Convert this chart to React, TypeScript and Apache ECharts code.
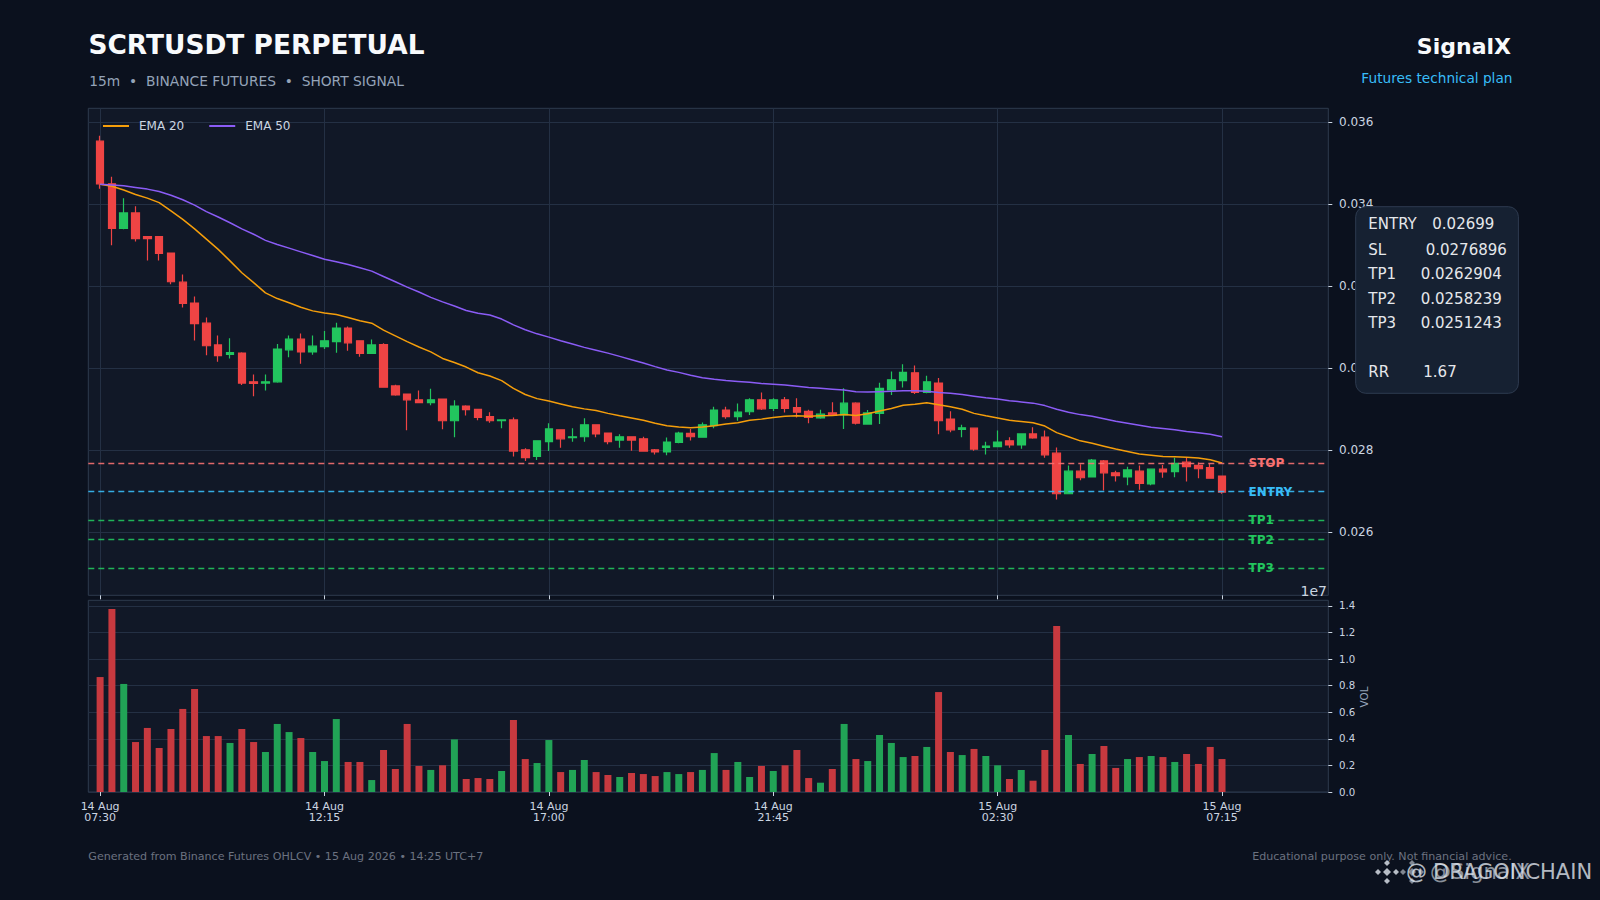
import React, { useEffect, useRef } from "react";
import * as echarts from "echarts";

// ---------- data ----------
const tickIndices = [0, 19, 38, 57, 76, 95];
const timeLabels = ["14 Aug\n07:30", "14 Aug\n12:15", "14 Aug\n17:00", "14 Aug\n21:45", "15 Aug\n02:30", "15 Aug\n07:15"];

const opens = [
  0.03554, 0.0345, 0.03341, 0.03379, 0.03321, 0.03321, 0.03281, 0.0321, 0.03159, 0.0311,
  0.03057, 0.03034, 0.03037, 0.02967, 0.02964, 0.02967, 0.03045, 0.03071, 0.0304, 0.03053,
  0.03065, 0.03098, 0.03067, 0.03036, 0.03058, 0.02957, 0.02937, 0.02923, 0.02916, 0.02925,
  0.02872, 0.02908, 0.029, 0.02882, 0.02872, 0.02874, 0.02801, 0.02785, 0.02821, 0.0285,
  0.02831, 0.02833, 0.02862, 0.02842, 0.02825, 0.02833, 0.02828, 0.02801, 0.02796, 0.02819,
  0.02841, 0.02832, 0.0286, 0.02898, 0.02882, 0.02894, 0.02923, 0.02902, 0.02923, 0.02904,
  0.02895, 0.02879, 0.02891, 0.02886, 0.02915, 0.02864, 0.0289, 0.02947, 0.0297, 0.02989,
  0.02941, 0.02964, 0.02876, 0.02851, 0.02854, 0.02807, 0.02809, 0.02823, 0.02813, 0.0284,
  0.02832, 0.02793, 0.02694, 0.02749, 0.02735, 0.02774, 0.02745, 0.02735, 0.02749, 0.02718,
  0.02754, 0.02748, 0.02771, 0.02763, 0.02758, 0.02737,
];
const closes = [
  0.0345, 0.03341, 0.03379, 0.03316, 0.03316, 0.0328, 0.03211, 0.03158, 0.03109, 0.03055,
  0.03031, 0.03038, 0.02964, 0.02963, 0.02967, 0.03047, 0.03071, 0.0304, 0.03054, 0.03067,
  0.03098, 0.03062, 0.03036, 0.03057, 0.02954, 0.02935, 0.02923, 0.02916, 0.02923, 0.02872,
  0.02908, 0.02899, 0.0288, 0.02872, 0.02874, 0.02798, 0.02782, 0.02823, 0.02852, 0.02828,
  0.02833, 0.02862, 0.0284, 0.02821, 0.02833, 0.02825, 0.02798, 0.02796, 0.0282, 0.02842,
  0.02833, 0.02862, 0.02898, 0.02882, 0.02893, 0.02923, 0.02901, 0.02923, 0.02902, 0.02893,
  0.0288, 0.02888, 0.02885, 0.02915, 0.02866, 0.02891, 0.02951, 0.02972, 0.0299, 0.02941,
  0.02967, 0.02872, 0.0285, 0.02855, 0.02803, 0.0281, 0.0282, 0.02813, 0.0284, 0.0283,
  0.02789, 0.02694, 0.02749, 0.02733, 0.02776, 0.02745, 0.02738, 0.02752, 0.02719, 0.02754,
  0.02747, 0.02768, 0.0276, 0.02755, 0.02732, 0.02698,
];
const lows = [
  0.03438, 0.033, 0.03339, 0.03309, 0.03263, 0.03263, 0.03205, 0.03148, 0.03068, 0.03032,
  0.03016, 0.03024, 0.02959, 0.02932, 0.02946, 0.02965, 0.03027, 0.03011, 0.03033, 0.03047,
  0.03038, 0.03043, 0.03028, 0.03036, 0.02953, 0.02933, 0.02849, 0.02916, 0.0291, 0.02851,
  0.02832, 0.02885, 0.02873, 0.02867, 0.02854, 0.02785, 0.02774, 0.02776, 0.02798, 0.02806,
  0.02821, 0.02821, 0.02832, 0.02815, 0.02806, 0.02799, 0.02798, 0.0279, 0.02788, 0.02817,
  0.02824, 0.02832, 0.02854, 0.02877, 0.02872, 0.02886, 0.02898, 0.02896, 0.02892, 0.0288,
  0.02866, 0.02877, 0.02885, 0.02852, 0.02863, 0.02863, 0.02864, 0.02935, 0.02953, 0.02937,
  0.02939, 0.02839, 0.02844, 0.02832, 0.02799, 0.0279, 0.02809, 0.02806, 0.02804, 0.02828,
  0.02782, 0.0268, 0.02693, 0.02727, 0.02735, 0.02702, 0.02724, 0.02715, 0.02704, 0.02715,
  0.02733, 0.02734, 0.02724, 0.02732, 0.02732, 0.02694,
];
const highs = [
  0.03567, 0.03467, 0.03415, 0.03395, 0.03321, 0.03321, 0.03281, 0.03229, 0.03175, 0.03124,
  0.0308, 0.03073, 0.03039, 0.02985, 0.02985, 0.03059, 0.0308, 0.03085, 0.0308, 0.03091,
  0.03111, 0.03102, 0.03067, 0.0307, 0.03061, 0.0296, 0.02937, 0.02946, 0.0295, 0.02926,
  0.02922, 0.0291, 0.029, 0.02893, 0.02875, 0.0288, 0.02805, 0.02823, 0.02866, 0.0285,
  0.02854, 0.02878, 0.02862, 0.02842, 0.02839, 0.02833, 0.02833, 0.02803, 0.02831, 0.02845,
  0.02852, 0.02868, 0.02906, 0.02906, 0.02914, 0.02927, 0.02941, 0.02927, 0.0293, 0.02927,
  0.02899, 0.02899, 0.02917, 0.02951, 0.02917, 0.02898, 0.02965, 0.02992, 0.0301, 0.03007,
  0.02982, 0.02976, 0.02895, 0.02862, 0.02854, 0.02821, 0.02848, 0.02832, 0.0284, 0.02856,
  0.02848, 0.02807, 0.02763, 0.02766, 0.02779, 0.02776, 0.0275, 0.0276, 0.02763, 0.02754,
  0.02764, 0.02782, 0.02782, 0.0277, 0.02768, 0.02737,
];
// volume, in units of 1e7
const volumes = [
  0.865, 1.377, 0.813, 0.376, 0.482, 0.331, 0.474, 0.625, 0.775, 0.421,
  0.421, 0.369, 0.474, 0.376, 0.301, 0.512, 0.451, 0.406, 0.301, 0.233,
  0.549, 0.226, 0.226, 0.09, 0.316, 0.173, 0.512, 0.196, 0.166, 0.201,
  0.396, 0.098, 0.105, 0.098, 0.158, 0.542, 0.248, 0.218, 0.391, 0.15,
  0.166, 0.241, 0.15, 0.128, 0.113, 0.143, 0.135, 0.12, 0.15, 0.135,
  0.15, 0.166, 0.293, 0.166, 0.226, 0.113, 0.196, 0.158, 0.201, 0.316,
  0.105, 0.07, 0.173, 0.512, 0.248, 0.233, 0.429, 0.369, 0.263, 0.271,
  0.339, 0.752, 0.301, 0.278, 0.324, 0.271, 0.201, 0.098, 0.166, 0.085,
  0.316, 1.249, 0.429, 0.211, 0.286, 0.346, 0.181, 0.248, 0.263, 0.271,
  0.263, 0.226, 0.286, 0.211, 0.339, 0.248,
];
const ema20 = [
  0.03449, 0.03444, 0.03435, 0.03424, 0.03415, 0.03404, 0.03384, 0.03363, 0.0334, 0.03315,
  0.0329, 0.03262, 0.03233, 0.03209, 0.03184, 0.0317, 0.0316, 0.03149, 0.0314, 0.03135,
  0.03131, 0.03124, 0.03116, 0.0311, 0.03093, 0.03079, 0.03065, 0.03052, 0.0304, 0.03024,
  0.03014, 0.03003, 0.02989, 0.02981, 0.0297, 0.02951, 0.02936, 0.02926, 0.0292, 0.02913,
  0.02906, 0.02901, 0.02897, 0.0289, 0.02884, 0.02879, 0.02873, 0.02866, 0.0286, 0.02857,
  0.02855, 0.02857, 0.0286, 0.02864, 0.02867, 0.02873, 0.02876, 0.0288, 0.02883, 0.02884,
  0.02883, 0.02884, 0.02885, 0.02887, 0.02885, 0.02889, 0.02896, 0.02902, 0.0291, 0.02912,
  0.02916, 0.02911, 0.02906, 0.029, 0.0289, 0.02884, 0.02879, 0.02873, 0.0287, 0.02867,
  0.02859, 0.02843, 0.02833, 0.02823, 0.02817, 0.0281, 0.02803, 0.02797, 0.02791, 0.02788,
  0.02785, 0.02784, 0.02783, 0.02781, 0.02777, 0.02769,
];
const ema50 = [
  0.03449, 0.03447, 0.03445, 0.03441, 0.03437, 0.03431, 0.03422, 0.03411, 0.03398, 0.03382,
  0.03369, 0.03355, 0.0334, 0.03327, 0.03312, 0.03302, 0.03293, 0.03284, 0.03275, 0.03266,
  0.0326, 0.03253, 0.03245, 0.03237, 0.03224, 0.03211, 0.03198, 0.03186, 0.03173, 0.03162,
  0.03152, 0.03141, 0.03134, 0.0313, 0.0312, 0.03106, 0.03094, 0.03084, 0.03076, 0.03067,
  0.03059, 0.03051, 0.03044, 0.03037, 0.03029, 0.03021, 0.03013, 0.03004, 0.02996, 0.0299,
  0.02983, 0.02977, 0.02973, 0.0297, 0.02968, 0.02966, 0.02963, 0.02961, 0.02959, 0.02956,
  0.02953, 0.02951, 0.02949, 0.02947, 0.02943, 0.02942, 0.02943, 0.02944, 0.02945, 0.02945,
  0.02944, 0.02941, 0.02939, 0.02936, 0.02932, 0.02928, 0.02925, 0.02921, 0.02918, 0.02915,
  0.02909, 0.029, 0.02893, 0.02887, 0.02883, 0.02877, 0.02871, 0.02866, 0.02861, 0.02856,
  0.02853, 0.0285, 0.02846, 0.02843, 0.02839, 0.02833,
];
const priceTicks = [0.026, 0.028, 0.03, 0.032, 0.034, 0.036];
const volTicks = [0, 0.2, 0.4, 0.6, 0.8, 1.0, 1.2, 1.4];
const levelNames = ["STOP", "ENTRY", "TP1", "TP2", "TP3"];
const levelValues = [0.0276896, 0.02699, 0.0262904, 0.0258239, 0.0251243];
const levelColors = ["#f87171", "#38bdf8", "#22c55e", "#22c55e", "#22c55e"];
const planLabels = ["ENTRY", "SL", "TP1", "TP2", "TP3", "RR"];
const planValues = ["0.02699", "0.0276896", "0.0262904", "0.0258239", "0.0251243", "1.67"];

// ---------- styles ----------
const FONT = "DejaVu Sans";
const UP = "#22c55e";
const DOWN = "#ef4444";
const VOL_UP = "#21a356";
const VOL_DOWN = "#c7393f";
const GRID_LINE = "#243044";
const BORDER = "#2f3b4e";
const AXIS_TXT = "#cbd5e1";

function diamond(cx: number, cy: number, r: number, fill: string) {
  return {
    type: "polygon",
    shape: { points: [[cx, cy - r], [cx + r, cy], [cx, cy + r], [cx - r, cy]] },
    style: { fill },
    z: 100,
  };
}
function logo(cx: number, cy: number, fill: string) {
  return [
    diamond(cx, cy, 4, fill),
    diamond(cx - 9, cy, 3, fill),
    diamond(cx + 9, cy, 3, fill),
    diamond(cx, cy - 9, 3, fill),
    diamond(cx, cy + 9, 3, fill),
  ];
}

export default function App() {
  const ref = useRef<HTMLDivElement>(null);

  useEffect(() => {
    document.body.style.margin = "0";
    document.body.style.background = "#0b111e";
    if (!ref.current) return;
    const chart = echarts.init(ref.current, undefined, { renderer: "svg" });

    const xLabelFmt = (v: number) => {
      const k = tickIndices.indexOf(Math.round(v));
      return k >= 0 ? timeLabels[k] : "";
    };

    const rowY = [224.3, 249.7, 274, 298.7, 323, 372.3];
    const valX = [1432.3, 1425.7, 1420.7, 1420.7, 1420.7, 1423.3];
    const planTexts: any[] = [];
    planLabels.forEach((l, i) => {
      planTexts.push({
        type: "text", z: 101,
        style: { x: 1368.3, y: rowY[i], text: l, fill: "#e5e7eb", fontSize: 15, fontFamily: FONT, verticalAlign: "middle", align: "left" },
      });
      planTexts.push({
        type: "text", z: 101,
        style: { x: valX[i], y: rowY[i], text: planValues[i], fill: "#e5e7eb", fontSize: 15, fontFamily: FONT, verticalAlign: "middle", align: "left" },
      });
    });

    const wmColor = "rgba(226,232,240,0.8)";

    const option: any = {
      animation: false,
      backgroundColor: "#0b111e",
      textStyle: { fontFamily: FONT },
      legend: {
        data: ["EMA 20", "EMA 50"],
        left: 98,
        top: 115,
        icon: "rect",
        itemWidth: 26,
        itemHeight: 2,
        itemGap: 25,
        textStyle: { color: AXIS_TXT, fontSize: 12, fontFamily: FONT, padding: [0, 0, 0, 5] },
      },
      grid: [
        { left: 88.3, top: 108.3, width: 1240, height: 487, show: true, backgroundColor: "#111827", borderColor: BORDER, borderWidth: 1 },
        { left: 88.3, top: 600.3, width: 1240, height: 191.7, show: true, backgroundColor: "#111827", borderColor: BORDER, borderWidth: 1 },
      ],
      xAxis: [
        {
          type: "value", gridIndex: 0, min: -1, max: 104,
          axisLine: { show: false, onZero: false },
          axisTick: { show: true, customValues: tickIndices, length: 4, lineStyle: { color: AXIS_TXT } },
          axisLabel: { show: false },
          splitLine: { show: true, lineStyle: { color: GRID_LINE, width: 1 } },
        },
        {
          type: "value", gridIndex: 1, min: -1, max: 104,
          axisLine: { show: false, onZero: false },
          axisTick: { show: true, customValues: tickIndices, length: 4, lineStyle: { color: AXIS_TXT } },
          axisLabel: {
            customValues: tickIndices, formatter: xLabelFmt, color: AXIS_TXT,
            fontSize: 11, lineHeight: 11, margin: 8.5, fontFamily: FONT,
          },
          splitLine: { show: false },
        },
      ],
      yAxis: [
        {
          type: "value", gridIndex: 0, position: "right", min: 0.024463, max: 0.036341,
          axisLine: { show: false, onZero: false },
          axisTick: { show: true, customValues: priceTicks, length: 4, lineStyle: { color: AXIS_TXT } },
          axisLabel: { customValues: priceTicks, formatter: (v: number) => v.toFixed(3), color: AXIS_TXT, fontSize: 12, margin: 10.7, fontFamily: FONT },
          splitLine: { show: true, lineStyle: { color: GRID_LINE, width: 1 } },
        },
        {
          type: "value", gridIndex: 1, position: "right", min: 0, max: 1.4425,
          axisLine: { show: false, onZero: false },
          axisTick: { show: true, customValues: volTicks, length: 4, lineStyle: { color: AXIS_TXT } },
          axisLabel: { customValues: volTicks, formatter: (v: number) => v.toFixed(1), color: AXIS_TXT, fontSize: 10.2, margin: 10.7, fontFamily: FONT },
          splitLine: { show: true, lineStyle: { color: GRID_LINE, width: 1 } },
        },
      ],
      series: [
        {
          name: "Price",
          type: "candlestick",
          xAxisIndex: 0, yAxisIndex: 0,
          barWidth: 8,
          encode: { x: 0, y: [1, 2, 3, 4] },
          data: opens.map((o, i) => [i, o, closes[i], lows[i], highs[i]]),
          itemStyle: { color: UP, color0: DOWN, borderColor: UP, borderColor0: DOWN, borderWidth: 1.2 },
        },
        {
          name: "EMA 20",
          type: "line",
          xAxisIndex: 0, yAxisIndex: 0,
          data: ema20.map((v, i) => [i, v]),
          symbol: "none",
          lineStyle: { color: "#f59e0b", width: 1.5 },
          itemStyle: { color: "#f59e0b" },
          z: 3,
          markLine: {
            silent: true,
            precision: 8,
            symbol: ["none", "none"],
            label: { show: false },
            data: levelValues.map((v, i) => ({ yAxis: v, lineStyle: { color: levelColors[i], type: [6, 4], width: 1.3, opacity: 0.9 } })),
          },
          markPoint: {
            silent: true,
            precision: 8,
            symbol: "circle",
            symbolSize: 1,
            itemStyle: { color: "rgba(0,0,0,0)" },
            data: levelValues.map((v, i) => ({
              name: levelNames[i],
              coord: [97.2, v],
              label: {
                show: true, position: "right", distance: 0, formatter: "{b}",
                color: levelColors[i], fontSize: 12, fontWeight: "bold", fontFamily: FONT,
              },
            })),
          },
        },
        {
          name: "EMA 50",
          type: "line",
          xAxisIndex: 0, yAxisIndex: 0,
          data: ema50.map((v, i) => [i, v]),
          symbol: "none",
          lineStyle: { color: "#8b5cf6", width: 1.5 },
          itemStyle: { color: "#8b5cf6" },
          z: 3,
        },
        {
          name: "Volume",
          type: "bar",
          xAxisIndex: 1, yAxisIndex: 1,
          barWidth: 7,
          data: volumes.map((v, i) => ({ value: [i, v], itemStyle: { color: closes[i] >= opens[i] ? VOL_UP : VOL_DOWN } })),
        },
      ],
      graphic: [
        { type: "text", style: { x: 88.5, y: 44, text: "SCRTUSDT PERPETUAL", fill: "#f8fafc", fontSize: 26.4, fontWeight: "bold", fontFamily: FONT, verticalAlign: "middle", align: "left" } },
        { type: "text", style: { x: 89.3, y: 81, text: "15m  •  BINANCE FUTURES  •  SHORT SIGNAL", fill: "#94a3b8", fontSize: 13.8, fontFamily: FONT, verticalAlign: "middle", align: "left" } },
        { type: "text", style: { x: 1511, y: 46.7, text: "SignalX", fill: "#f8fafc", fontSize: 22, fontWeight: "bold", fontFamily: FONT, verticalAlign: "middle", align: "right" } },
        { type: "text", style: { x: 1512.5, y: 78.3, text: "Futures technical plan", fill: "#38bdf8", fontSize: 13.7, fontFamily: FONT, verticalAlign: "middle", align: "right" } },
        { type: "text", style: { x: 1327, y: 590.5, text: "1e7", fill: AXIS_TXT, fontSize: 14, fontFamily: FONT, verticalAlign: "middle", align: "right" } },
        { type: "text", x: 1364.3, y: 697, rotation: Math.PI / 2, style: { x: 0, y: 0, text: "VOL", fill: "#94a3b8", fontSize: 10.4, fontFamily: FONT, verticalAlign: "middle", align: "center" } },
        { type: "text", style: { x: 88.3, y: 856, text: "Generated from Binance Futures OHLCV • 15 Aug 2026 • 14:25 UTC+7", fill: "#6b7280", fontSize: 11.1, fontFamily: FONT, verticalAlign: "middle", align: "left" } },
        { type: "text", style: { x: 1511.7, y: 856, text: "Educational purpose only. Not financial advice.", fill: "#6b7280", fontSize: 11.1, fontFamily: FONT, verticalAlign: "middle", align: "right" } },
        {
          type: "rect", z: 100,
          shape: { x: 1355.7, y: 206.7, width: 162.7, height: 186.6, r: 10 },
          style: { fill: "#162132", stroke: "#2e3b50", lineWidth: 1 },
        },
        ...planTexts,
        ...logo(1387, 872, wmColor),
        ...logo(1412, 872, "rgba(226,232,240,0.55)"),
        { type: "text", z: 100, style: { x: 1406, y: 872, text: "@", fill: wmColor, fontSize: 21, fontFamily: FONT, verticalAlign: "middle", align: "left" } },
        { type: "text", z: 100, style: { x: 1433, y: 872, text: "DRAGONCHAIN", fill: wmColor, fontSize: 21, fontFamily: FONT, verticalAlign: "middle", align: "left" } },
        { type: "text", z: 100, style: { x: 1430, y: 872, text: "@SignalX", fill: "rgba(226,232,240,0.6)", fontSize: 21, fontFamily: FONT, verticalAlign: "middle", align: "left" } },
      ],
    };

    chart.setOption(option);
    return () => chart.dispose();
  }, []);

  return <div ref={ref} style={{ width: 1600, height: 900 }} />;
}
